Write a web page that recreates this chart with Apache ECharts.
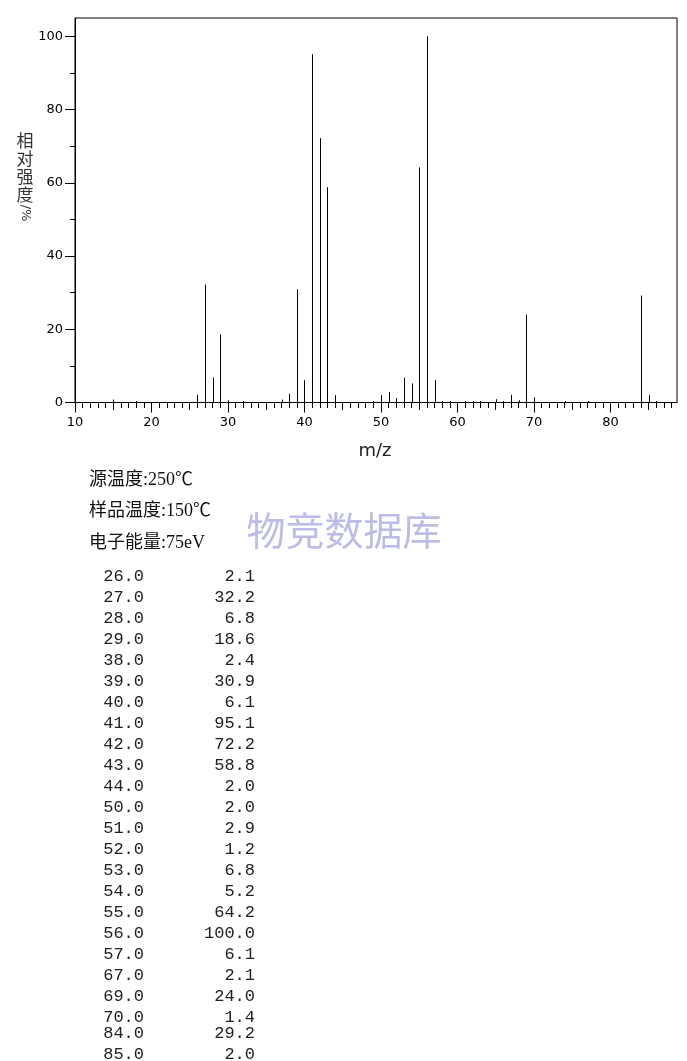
<!DOCTYPE html>
<html><head><meta charset="utf-8">
<script src="https://cdn.jsdelivr.net/npm/echarts@6/dist/echarts.min.js"></script>
<style>html,body{margin:0;padding:0;background:#fff}#c{width:687px;height:1061px}</style>
</head><body><div id="c"></div>
<script>
// ---- data ----
const peakMz = [26,27,28,29,38,39,40,41,42,43,44,50,51,52,53,54,55,56,57,67,69,70,84,85];
const peakIntensity = [2.1,32.2,6.8,18.6,2.4,30.9,6.1,95.1,72.2,58.8,2.0,2.0,2.9,1.2,6.8,5.2,64.2,100.0,6.1,2.1,24.0,1.4,29.2,2.0];
const minorMz = [15,18,30,32,37,49,58,59,61,62,63,65,66,68,74,77,86];
const minorIntensity = [0.8,0.4,0.6,0.4,0.8,0.4,0.4,0.4,0.4,0.4,0.4,0.9,0.4,0.6,0.4,0.4,0.4];
const xTickValues = [10,20,30,40,50,60,70,80];
const yTickValues = [0,20,40,60,80,100];
const infoLines = ['源温度:250℃','样品温度:150℃','电子能量:75eV'];
const watermark = '物竞数据库';
const yName = ['相','对','强','度'];
const yNameTail = '/%';
const xName = 'm/z';

// ---- layout ----
const X_MIN = 10, X_MAX = 88.7, Y_MIN = 0, Y_MAX = 105;
const mediumX = [], minorX = [];
for (let v = 11; v < X_MAX; v++) { if (v % 10 === 5) mediumX.push(v); else if (v % 10 !== 0) minorX.push(v); }
const minorY = [10,30,50,70,90];

const chart = echarts.init(document.getElementById('c'));
const peaks = peakMz.map((m,i)=>[m, peakIntensity[i]]).concat(minorMz.map((m,i)=>[m, minorIntensity[i]]));

function renderPeak(params, api) {
  const top = api.coord([api.value(0), api.value(1)]);
  const base = api.coord([api.value(0), 0]);
  const x = Math.round(top[0]) + 0.5;
  return {type:'line', shape:{x1:x, y1:base[1], x2:x, y2:top[1]}, style:{stroke:'#000', lineWidth:1}};
}

const labelFont = {fontFamily:'DejaVu Sans', fontSize:13, color:'#000'};
const baseX = {type:'value', min:X_MIN, max:X_MAX, position:'bottom', splitLine:{show:false}};
const baseY = {type:'value', min:Y_MIN, max:Y_MAX, position:'left', splitLine:{show:false}};

const graphic = [];
yName.forEach((ch,i)=>{
  graphic.push({type:'text', x:25, y:141 + i*17.8, style:{text:ch, font:'17px "Noto Sans CJK SC"', fill:'#333', align:'center', verticalAlign:'middle'}});
});
graphic.push({type:'text', x:25, y:213, rotation:-Math.PI/2, style:{text:yNameTail, font:'13px "DejaVu Sans"', fill:'#333', align:'center', verticalAlign:'middle'}});
graphic.push({type:'text', x:375, y:451, style:{text:xName, font:'18px "DejaVu Sans"', fill:'#222', align:'center', verticalAlign:'middle'}});
infoLines.forEach((t,i)=>{
  graphic.push({type:'text', x:89, y:480 + i*31.5, style:{text:t, font:'18px "Liberation Serif", "Noto Sans CJK SC"', fill:'#111', align:'left', verticalAlign:'middle'}});
});
graphic.push({type:'text', x:344, y:530, style:{text:watermark, font:'39px "Noto Sans CJK SC"', fill:'#bcbce6', align:'center', verticalAlign:'middle'}});
peakMz.forEach((m,i)=>{
  const y = 576 + i*21 + (i >= 22 ? -5 : 0);
  graphic.push({type:'text', x:144, y:y, style:{text:m.toFixed(1), font:'17px "Liberation Mono"', fill:'#222', align:'right', verticalAlign:'middle'}});
  graphic.push({type:'text', x:255, y:y, style:{text:peakIntensity[i].toFixed(1), font:'17px "Liberation Mono"', fill:'#222', align:'right', verticalAlign:'middle'}});
});

chart.setOption({
  animation:false,
  backgroundColor:'#fff',
  grid:{left:75, right:10, top:18, bottom:658.5, show:true, borderColor:'#000', borderWidth:1, containLabel:false},
  xAxis:[
    Object.assign({}, baseX, {
      axisLine:{show:true, lineStyle:{color:'#000', width:1}},
      axisTick:{show:true, length:10, customValues:xTickValues, lineStyle:{color:'#000'}},
      axisLabel:Object.assign({show:true, margin:14, customValues:xTickValues}, labelFont)
    }),
    Object.assign({}, baseX, {
      axisLine:{show:false},
      axisTick:{show:true, length:7.5, customValues:mediumX, lineStyle:{color:'#000'}},
      axisLabel:{show:false}
    }),
    Object.assign({}, baseX, {
      axisLine:{show:false},
      axisTick:{show:true, length:5.5, customValues:minorX, lineStyle:{color:'#000'}},
      axisLabel:{show:false}
    })
  ],
  yAxis:[
    Object.assign({}, baseY, {
      axisLine:{show:true, lineStyle:{color:'#000', width:1}},
      axisTick:{show:true, length:10, customValues:yTickValues, lineStyle:{color:'#000'}},
      axisLabel:Object.assign({show:true, margin:12, customValues:yTickValues}, labelFont)
    }),
    Object.assign({}, baseY, {
      axisLine:{show:false},
      axisTick:{show:true, length:5, customValues:minorY, lineStyle:{color:'#000'}},
      axisLabel:{show:false}
    })
  ],
  series:[{type:'custom', xAxisIndex:0, yAxisIndex:0, renderItem:renderPeak, data:peaks, clip:true, silent:true}],
  graphic:graphic
});
</script></body></html>
